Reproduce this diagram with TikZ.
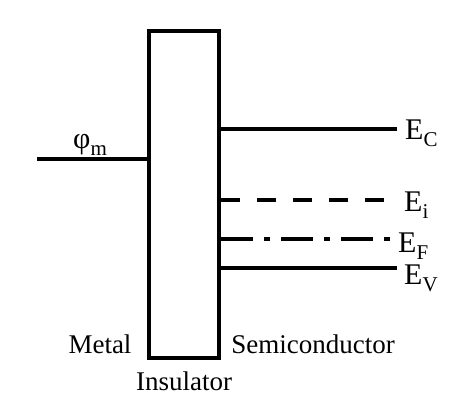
\documentclass[tikz,border=0pt]{standalone}
\usepackage{fontspec}
\setmainfont{Liberation Serif}
\usepackage{tikz}
\usetikzlibrary{calc}

\newcommand{\lowsub}[1]{\raisebox{-7pt}{\fontsize{21}{21}\selectfont #1}}

\begin{document}
\begin{tikzpicture}[x=1pt, y=-1pt, font=\fontsize{27}{32}\selectfont,
    level/.style={line width=3.8pt},
    lbl/.style={anchor=base west, inner sep=0pt, font=\fontsize{30}{34}\selectfont}]
    \useasboundingbox (0, 0) rectangle (468, 411);

    % insulator box
    \node[draw, line width=4pt, minimum width=70pt, minimum height=326pt, inner sep=0pt] (ins) at (184, 194.5) {};

    \coordinate (M) at (37, 159);
    \coordinate (C) at (397, 129);
    \coordinate (I) at (387, 200);
    \coordinate (F) at (397, 239);
    \coordinate (V) at (397, 268);

    \draw[level] (M) -- (ins.west |- M);
    \draw[level] (ins.east |- C) -- (C);
    \draw[level, dash pattern=on 19pt off 17pt] (ins.east |- I) -- (I);
    \draw[level, dash pattern=on 32pt off 11pt on 6pt off 11pt] (ins.east |- F) -- (F);
    \draw[level] (ins.east |- V) -- (V);

    \node[lbl] (phim) at (73, 149) {φ\lowsub{m}};
    \node[lbl] (ec) at (405, 140) {E\lowsub{C}};
    \node[lbl] (ei) at (404, 212) {E\lowsub{i}};
    \node[lbl] (ef) at (398, 253) {E\lowsub{F}};
    \node[lbl] (ev) at (404, 285) {E\lowsub{V}};

    \node[anchor=base] (metal) at (100, 353) {Metal};
    \node[anchor=base] (semi) at (313, 353) {Semiconductor};
    \node[anchor=base] (insl) at (184, 390) {Insulator};
\end{tikzpicture}
\end{document}
